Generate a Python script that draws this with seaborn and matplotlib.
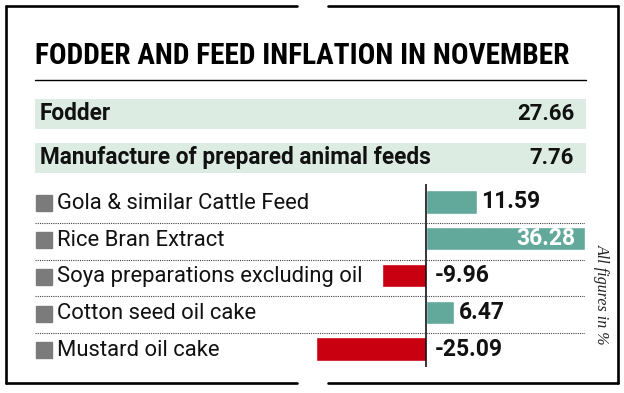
import matplotlib
matplotlib.use("Agg")
import matplotlib.pyplot as plt
import seaborn as sns
import pandas as pd
from matplotlib import font_manager
from matplotlib.patches import Rectangle
from matplotlib.lines import Line2D

# ---- data ----
title = "FODDER AND FEED INFLATION IN NOVEMBER"
summary_labels = ["Fodder", "Manufacture of prepared animal feeds"]
summary_values = [27.66, 7.76]
categories = ["Gola & similar Cattle Feed", "Rice Bran Extract",
              "Soya preparations excluding oil", "Cotton seed oil cake",
              "Mustard oil cake"]
values = [11.59, 36.28, -9.96, 6.47, -25.09]
note = "All figures in %"

# ---- style ----
sns.set_theme(style="white")
names = {f.name for f in font_manager.fontManager.ttflist}
def pick(cands):
    for c in cands:
        if c in names:
            return c
    return "DejaVu Sans"
title_font = pick(["Roboto Condensed", "Liberation Sans Narrow", "DejaVu Sans"])
body_font = pick(["Roboto", "Liberation Sans", "DejaVu Sans"])
serif_font = pick(["Liberation Serif", "DejaVu Serif"])
plt.rcParams["font.family"] = [body_font, "DejaVu Sans"]

W, H = 624, 393
fig = plt.figure(figsize=(W / 100, H / 100), dpi=100)
fig.patch.set_facecolor("white")

def fx(x):
    return x / W
def fy(y):
    return 1 - y / H

TEAL = "#62a99c"
RED = "#c9000f"
BAND = "#dcece3"
GREY = "#7b7b7b"

# frame with gaps top and bottom
for y in (6, 383):
    fig.add_artist(Line2D([fx(6), fx(297)], [fy(y), fy(y)], color="black", lw=1.9))
    fig.add_artist(Line2D([fx(328), fx(618)], [fy(y), fy(y)], color="black", lw=1.9))
for x in (6, 618):
    fig.add_artist(Line2D([fx(x), fx(x)], [fy(6), fy(383)], color="black", lw=1.9))

# title
fig.text(fx(35), fy(64), title, family=[title_font, "DejaVu Sans"], fontweight="bold",
         fontsize=21.2, ha="left", va="baseline", color="black")
fig.add_artist(Line2D([fx(35), fx(586)], [fy(80), fy(80)], color="black", lw=1.0))

# summary bands
band_tops = [99, 143]
for top, lab, val in zip(band_tops, summary_labels, summary_values):
    fig.add_artist(Rectangle((fx(35), fy(top + 30)), fx(586) - fx(35), 30 / H,
                             facecolor=BAND, edgecolor="none", transform=fig.transFigure))
    fig.text(fx(40), fy(top + 15), lab, fontweight="bold", fontsize=16.3,
             ha="left", va="center", color="#111111")
    fig.text(fx(574), fy(top + 15), f"{val:.2f}", fontweight="bold", fontsize=16,
             ha="right", va="center", color="#111111")

# bar chart
ax_top, ax_bot = 183.6, 367.4
ax = fig.add_axes([fx(35), fy(ax_bot), fx(585) - fx(35), (ax_bot - ax_top) / H])
df = pd.DataFrame({"category": categories, "value": values})
colors = [TEAL if v >= 0 else RED for v in values]
sns.barplot(data=df, x="value", y="category", hue="category", palette=colors,
            legend=False, width=0.63, orient="h", saturation=1, ax=ax)
ax.set_xlim(-89.2, 36.28)
ax.set_ylim(4.5, -0.5)
ax.axis("off")
ax.axvline(0, color="black", lw=1.1)
for i in range(len(categories) - 1):
    ax.axhline(i + 0.57, color="#444444", lw=0.8, ls=(0, (1, 1)))

tr = ax.get_yaxis_transform()
for i, (cat, v) in enumerate(zip(categories, values)):
    ax.plot([0.0164], [i + 0.04], marker="s", markersize=11, color=GREY,
            transform=tr, clip_on=False)
    ax.text(0.04, i + 0.04, cat, transform=tr, fontsize=15.8, ha="left", va="center",
            color="#111111")
    if v > 30:
        ax.text(v - 2.2, i, f"{v:.2f}", fontsize=16.5, fontweight="bold", color="white",
                ha="right", va="center")
    elif v >= 0:
        ax.text(v + 1.0, i, f"{v:.2f}", fontsize=16.5, fontweight="bold", color="#111111",
                ha="left", va="center")
    else:
        ax.text(2.0, i, f"{v:.2f}", fontsize=16.5, fontweight="bold", color="#111111",
                ha="left", va="center")

fig.text(fx(602), fy(294), note, family=[serif_font, "DejaVu Serif"], style="italic",
         fontsize=11.5, rotation=270, ha="center", va="center", color="#222222")

fig.savefig("out.png", dpi=100, facecolor="white")
